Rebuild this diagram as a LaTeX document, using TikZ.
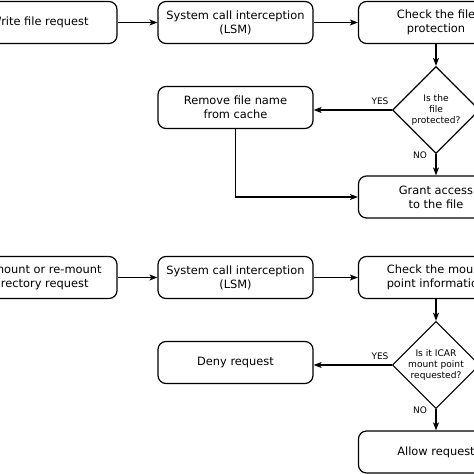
\documentclass[tikz,border=0pt]{standalone}
\usepackage{fontspec}
\setmainfont{DejaVu Sans}
\usetikzlibrary{shapes.geometric,arrows.meta}

\tikzset{
    stepbox/.style={draw, rectangle, rounded corners=8pt, line width=1.2pt,
        minimum width=155pt, minimum height=42pt, inner sep=0pt, align=center,
        font={\fontsize{11.4}{14}\selectfont}},
    decision/.style={draw, diamond, line width=1.2pt, minimum width=87pt,
        minimum height=87pt, inner sep=0pt, align=center,
        font={\fontsize{9.1}{11.4}\selectfont}},
    answer/.style={font={\fontsize{9}{11}\selectfont}},
    flow/.style={line width=1.2pt, -{Stealth[length=8pt,width=6pt,inset=2pt]}}
}

\begin{document}
\begin{tikzpicture}[x=1pt, y=-1pt]
        \useasboundingbox (0,0) rectangle (474,474);
        \clip (0,0) rectangle (474,474);
        \def\off{255} % Offset of the second chart

        % Write request chart
        \node[stepbox] (wreq) at (39.5,22.5) {Write file request};
        \node[stepbox] (sysa) at (235.5,22.5) {System call interception\\(LSM)};
        \node[stepbox] (chka) at (436,22.5) {Check the file\\protection};
        \node[decision] (deca) at (436,110) {Is the\\file\\protected?};
        \node[stepbox] (remc) at (235.5,107.5) {Remove file name\\from cache};
        \node[stepbox] (grant) at (436,197) {Grant access\\to the file};
        \node[answer] (yesa) at (380,101) {YES};
        \node[answer] (noa) at (420,155) {NO};

        \draw[flow] (wreq) -- (sysa);
        \draw[flow] (sysa) -- (chka);
        \draw[flow] (chka) -- (deca);
        \draw[flow] (deca.west) -- (deca.west -| remc.east);
        \draw[flow] (deca) -- (grant);
        \draw[flow] (remc.south) |- (grant.west);

        % Mount request chart
        \node[stepbox] (mreq) at (39.5,22.5+\off) {Unmount or re-mount\\directory request};
        \node[stepbox] (sysb) at (235.5,22.5+\off) {System call interception\\(LSM)};
        \node[stepbox] (chkb) at (436,22.5+\off) {Check the mount\\point information};
        \node[decision] (decb) at (436,110+\off) {Is it ICAR\\mount point\\requested?};
        \node[stepbox] (deny) at (235.5,107.5+\off) {Deny request};
        \node[stepbox] (allow) at (436,197+\off) {Allow request};
        \node[answer] (yesb) at (380,101+\off) {YES};
        \node[answer] (nob) at (420,155+\off) {NO};

        \draw[flow] (mreq) -- (sysb);
        \draw[flow] (sysb) -- (chkb);
        \draw[flow] (chkb) -- (decb);
        \draw[flow] (decb.west) -- (decb.west -| deny.east);
        \draw[flow] (decb) -- (allow);
\end{tikzpicture}
\end{document}
